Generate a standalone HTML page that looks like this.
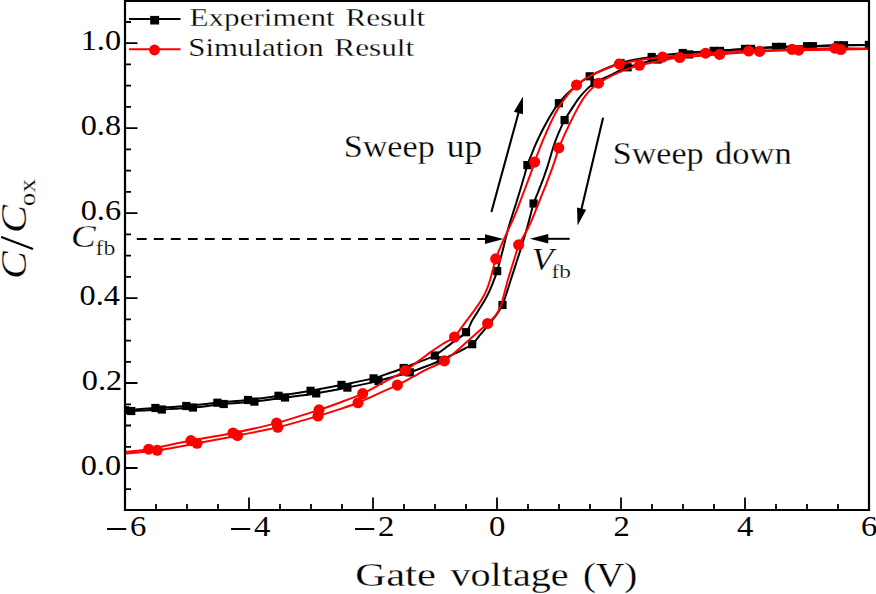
<!DOCTYPE html>
<html><head><meta charset="utf-8"><style>
html,body{margin:0;padding:0;background:#fff;width:876px;height:594px;overflow:hidden}
svg{display:block}
text{font-family:"Liberation Serif", serif;fill:#000;stroke:#fff;stroke-width:0.25px}
.tk text{stroke:none}
</style></head><body>
<svg width="876" height="594" viewBox="0 0 876 594">
<defs><clipPath id="c"><rect x="125" y="1" width="744" height="509"/></clipPath></defs>
<g clip-path="url(#c)" fill="none" stroke-width="2">
<path d="M125.0,410.3 C130.1,409.9 145.2,408.7 155.4,408.0 C165.6,407.3 176.0,406.9 186.3,406.0 C196.6,405.1 207.1,403.7 217.4,402.7 C227.7,401.7 237.8,401.1 248.0,400.0 C258.2,398.9 268.1,397.3 278.5,395.8 C288.9,394.3 300.1,392.6 310.6,390.8 C321.1,389.0 331.0,387.0 341.5,384.9 C352.0,382.8 365.6,380.4 373.6,378.4 C381.6,376.4 384.5,374.7 389.5,373.0 C394.5,371.3 398.7,369.9 403.7,368.0 C408.7,366.1 414.3,363.7 419.5,361.7 C424.7,359.6 429.5,358.5 434.8,355.5 C440.1,352.5 446.2,347.3 451.4,343.4 C456.6,339.6 462.6,335.9 466.0,332.2 C469.4,328.5 469.9,324.7 471.9,321.1 C474.0,317.5 476.3,314.0 478.4,310.5 C480.5,307.0 482.8,303.7 484.7,300.3 C486.6,296.9 488.3,293.6 489.8,290.3 C491.3,287.0 492.5,283.7 493.8,280.5 C495.0,277.3 496.0,275.2 497.2,271.1 C498.4,267.0 500.1,260.3 501.2,256.0 C502.4,251.7 503.2,248.4 504.0,245.3 C504.8,242.2 505.3,240.1 505.9,237.4 C506.6,234.7 507.3,231.9 508.1,229.1 C508.8,226.3 509.8,223.3 510.7,220.4 C511.6,217.5 512.5,214.6 513.4,211.8 C514.3,209.0 515.2,206.3 516.1,203.5 C516.9,200.7 517.7,198.1 518.6,195.2 C519.5,192.2 520.4,189.3 521.4,186.0 C522.3,182.8 523.3,179.3 524.4,175.8 C525.4,172.3 526.3,168.5 527.4,165.1 C528.5,161.7 529.9,158.6 531.2,155.3 C532.5,152.0 533.8,148.7 535.2,145.4 C536.7,142.0 538.2,138.6 539.9,135.3 C541.5,132.0 543.3,128.5 545.0,125.3 C546.8,122.1 548.6,118.9 550.2,116.1 C551.8,113.4 553.3,110.9 554.7,108.7 C556.2,106.6 557.1,105.4 558.9,103.2 C560.7,101.0 562.7,98.1 565.5,95.4 C568.2,92.6 571.5,89.7 575.5,86.5 C579.5,83.3 582.2,80.2 589.7,76.3 C597.2,72.4 610.2,66.2 620.5,63.0 C630.8,59.8 641.3,58.7 651.7,57.0 C662.1,55.3 672.4,54.0 682.7,53.0 C693.0,52.0 703.3,51.6 713.7,50.9 C724.1,50.2 734.6,49.6 745.0,48.9 C755.4,48.2 765.7,47.3 776.0,46.9 C786.3,46.5 796.7,46.5 807.0,46.2 C817.3,45.9 827.7,45.5 838.0,45.3 C848.3,45.1 863.8,45.0 869.0,45.0" stroke="#000"/>
<path d="M125.0,411.0 C126.0,411.0 125.1,411.2 131.2,411.0 C137.3,410.8 151.5,410.1 161.8,409.5 C172.1,408.9 182.6,408.4 192.9,407.5 C203.2,406.6 213.4,405.0 223.7,404.0 C233.9,403.0 244.2,402.7 254.4,401.6 C264.6,400.5 274.7,398.9 285.0,397.5 C295.3,396.1 305.8,395.0 316.2,393.4 C326.6,391.8 337.0,389.7 347.4,387.6 C357.8,385.5 370.6,382.8 378.4,380.9 C386.2,379.0 389.0,377.9 394.2,376.5 C399.4,375.0 404.6,374.0 409.8,372.4 C415.0,370.8 420.1,368.7 425.3,366.6 C430.5,364.6 435.5,362.7 440.8,360.3 C446.1,357.9 452.1,354.9 457.4,352.3 C462.6,349.6 468.5,347.0 472.2,344.2 C475.9,341.4 477.2,338.3 479.6,335.4 C482.0,332.6 484.4,329.9 486.7,327.2 C488.9,324.5 491.2,321.8 493.2,319.2 C495.2,316.6 497.0,314.0 498.6,311.6 C500.1,309.3 501.2,307.9 502.5,305.0 C503.8,302.1 505.0,297.8 506.1,294.5 C507.2,291.2 508.2,288.3 509.1,285.2 C510.1,282.1 510.9,279.5 512.0,276.1 C513.1,272.6 514.3,269.0 515.7,264.6 C517.1,260.1 519.0,254.8 520.6,249.5 C522.3,244.2 524.1,238.1 525.7,232.7 C527.3,227.3 528.7,222.0 530.0,217.1 C531.3,212.3 532.4,207.2 533.6,203.5 C534.8,199.8 535.9,197.7 537.1,194.6 C538.3,191.6 539.5,188.4 540.8,185.2 C542.0,181.9 543.4,178.5 544.5,175.2 C545.7,171.9 546.9,168.5 547.9,165.1 C549.0,161.8 549.9,158.5 550.9,155.2 C551.9,151.8 552.8,148.5 553.9,145.2 C555.0,142.0 556.3,138.6 557.5,135.6 C558.7,132.6 560.0,129.7 561.2,127.1 C562.4,124.5 563.2,122.7 564.6,120.1 C566.0,117.5 568.1,114.3 569.9,111.6 C571.6,108.9 573.2,106.3 575.0,103.8 C576.7,101.2 578.4,98.6 580.5,96.2 C582.5,93.7 584.7,91.3 587.0,89.1 C589.4,86.9 590.7,85.2 594.5,83.0 C598.3,80.8 604.0,78.3 609.6,75.7 C615.1,73.1 619.6,70.0 627.6,67.3 C635.6,64.6 647.4,61.6 657.7,59.5 C668.0,57.4 678.8,55.8 689.2,54.4 C699.6,53.0 709.7,51.8 720.0,50.9 C730.3,50.0 740.7,49.6 751.0,48.9 C761.3,48.2 771.7,47.3 782.0,46.9 C792.3,46.5 802.7,46.5 813.0,46.2 C823.3,45.9 834.7,45.5 844.0,45.3 C853.3,45.1 864.8,45.0 869.0,45.0" stroke="#000"/>
<g fill="#000" stroke="none"><rect x="120.9" y="406.2" width="8.2" height="8.2"/><rect x="151.3" y="403.9" width="8.2" height="8.2"/><rect x="182.2" y="401.9" width="8.2" height="8.2"/><rect x="213.3" y="398.6" width="8.2" height="8.2"/><rect x="243.9" y="395.9" width="8.2" height="8.2"/><rect x="274.4" y="391.7" width="8.2" height="8.2"/><rect x="306.5" y="386.7" width="8.2" height="8.2"/><rect x="337.4" y="380.8" width="8.2" height="8.2"/><rect x="369.5" y="374.3" width="8.2" height="8.2"/><rect x="399.6" y="363.9" width="8.2" height="8.2"/><rect x="430.7" y="351.4" width="8.2" height="8.2"/><rect x="461.9" y="328.1" width="8.2" height="8.2"/><rect x="493.1" y="267.0" width="8.2" height="8.2"/><rect x="523.3" y="161.0" width="8.2" height="8.2"/><rect x="554.8" y="99.1" width="8.2" height="8.2"/><rect x="585.6" y="72.2" width="8.2" height="8.2"/><rect x="616.4" y="58.9" width="8.2" height="8.2"/><rect x="647.6" y="52.9" width="8.2" height="8.2"/><rect x="678.6" y="48.9" width="8.2" height="8.2"/><rect x="709.6" y="46.8" width="8.2" height="8.2"/><rect x="740.9" y="44.8" width="8.2" height="8.2"/><rect x="771.9" y="42.8" width="8.2" height="8.2"/><rect x="802.9" y="42.1" width="8.2" height="8.2"/><rect x="833.9" y="41.2" width="8.2" height="8.2"/><rect x="864.9" y="40.9" width="8.2" height="8.2"/><rect x="127.1" y="406.9" width="8.2" height="8.2"/><rect x="157.7" y="405.4" width="8.2" height="8.2"/><rect x="188.8" y="403.4" width="8.2" height="8.2"/><rect x="219.6" y="399.9" width="8.2" height="8.2"/><rect x="250.3" y="397.5" width="8.2" height="8.2"/><rect x="280.9" y="393.4" width="8.2" height="8.2"/><rect x="312.1" y="389.3" width="8.2" height="8.2"/><rect x="343.3" y="383.5" width="8.2" height="8.2"/><rect x="374.3" y="376.8" width="8.2" height="8.2"/><rect x="405.7" y="368.3" width="8.2" height="8.2"/><rect x="436.7" y="356.2" width="8.2" height="8.2"/><rect x="468.1" y="340.1" width="8.2" height="8.2"/><rect x="498.4" y="300.9" width="8.2" height="8.2"/><rect x="529.5" y="199.4" width="8.2" height="8.2"/><rect x="560.5" y="116.0" width="8.2" height="8.2"/><rect x="590.4" y="78.9" width="8.2" height="8.2"/><rect x="623.5" y="63.2" width="8.2" height="8.2"/><rect x="653.6" y="55.4" width="8.2" height="8.2"/><rect x="685.1" y="50.3" width="8.2" height="8.2"/><rect x="715.9" y="46.8" width="8.2" height="8.2"/><rect x="746.9" y="44.8" width="8.2" height="8.2"/><rect x="777.9" y="42.8" width="8.2" height="8.2"/><rect x="808.9" y="42.1" width="8.2" height="8.2"/><rect x="839.9" y="41.2" width="8.2" height="8.2"/><rect x="864.9" y="40.9" width="8.2" height="8.2"/></g>
<path d="M125.0,452.0 C128.9,451.5 137.7,451.1 148.7,449.2 C159.7,447.3 176.8,443.3 190.9,440.6 C205.0,437.9 218.7,435.9 233.0,433.0 C247.3,430.1 262.3,427.0 276.6,423.1 C290.9,419.2 308.1,413.5 319.0,409.9 C329.9,406.3 334.6,404.5 341.9,401.8 C349.2,399.1 356.5,396.4 362.7,393.6 C368.9,390.8 373.8,387.7 378.8,384.9 C383.9,382.2 388.6,379.7 393.0,377.3 C397.4,374.9 401.1,373.3 405.3,370.6 C409.5,367.9 414.2,364.2 418.4,361.1 C422.6,358.1 426.3,355.2 430.2,352.4 C434.2,349.6 437.9,347.1 441.9,344.5 C445.9,341.9 451.4,339.6 454.5,337.0 C457.6,334.4 458.3,331.9 460.4,329.1 C462.5,326.2 464.6,323.3 467.0,320.1 C469.3,317.0 471.9,313.7 474.3,310.4 C476.7,307.1 479.2,303.7 481.2,300.3 C483.3,296.9 485.1,293.6 486.5,290.2 C488.0,286.8 489.0,283.5 490.1,280.0 C491.1,276.6 491.9,273.1 492.9,269.6 C493.8,266.1 494.7,261.9 495.7,258.9 C496.7,255.9 497.7,253.8 498.7,251.4 C499.7,249.0 500.5,246.9 501.5,244.6 C502.6,242.2 503.6,239.9 504.8,237.4 C505.9,234.8 507.3,231.9 508.6,229.1 C509.9,226.3 511.3,223.3 512.6,220.4 C513.9,217.5 515.1,214.7 516.2,211.8 C517.3,209.0 518.4,206.2 519.5,203.3 C520.6,200.4 521.7,197.6 522.8,194.5 C524.0,191.4 525.2,188.3 526.5,184.9 C527.8,181.5 529.1,177.8 530.5,174.1 C531.9,170.3 533.5,165.4 534.7,162.1 C535.9,158.8 536.5,157.0 537.5,154.2 C538.6,151.4 539.7,148.3 541.0,145.2 C542.2,142.0 543.6,138.6 545.1,135.3 C546.5,132.0 548.0,128.6 549.6,125.2 C551.1,121.8 552.6,118.5 554.4,115.1 C556.2,111.8 557.9,108.5 560.1,105.1 C562.3,101.8 564.8,98.5 567.6,95.1 C570.3,91.8 573.5,87.7 576.5,85.0 C579.5,82.3 582.2,80.8 585.3,78.9 C588.3,77.0 591.3,75.3 594.8,73.6 C598.3,71.9 602.1,70.4 606.2,68.8 C610.3,67.2 615.1,65.2 619.4,64.0 C623.7,62.8 627.4,62.3 631.9,61.4 C636.4,60.6 641.2,59.9 646.4,59.1 C651.5,58.4 652.7,58.1 662.6,57.1 C672.5,56.1 691.2,54.2 705.6,53.2 C720.0,52.2 734.4,51.6 748.8,51.0 C763.2,50.4 777.7,49.9 792.0,49.4 C806.3,48.9 821.9,48.3 834.7,48.2 C847.5,48.1 863.3,48.5 869.0,48.6" stroke="#f00"/>
<path d="M125.0,453.6 C130.4,453.1 145.2,452.0 157.2,450.3 C169.2,448.6 183.6,445.8 197.0,443.3 C210.4,440.8 224.0,438.2 237.5,435.5 C251.0,432.8 264.4,430.6 277.8,427.3 C291.2,424.1 307.7,419.0 318.0,416.0 C328.3,413.0 333.1,411.3 339.8,409.1 C346.4,406.9 351.6,405.4 358.0,402.8 C364.4,400.2 371.8,396.5 378.4,393.6 C384.9,390.6 391.5,388.0 397.4,385.1 C403.3,382.2 408.7,379.1 414.1,376.2 C419.4,373.3 424.6,370.4 429.7,367.9 C434.8,365.4 438.6,364.9 444.4,360.9 C450.2,356.9 457.3,350.2 464.5,344.0 C471.7,337.7 482.5,328.1 487.6,323.5 C492.7,318.9 492.8,318.7 494.9,316.3 C496.9,313.8 498.4,311.4 499.7,308.7 C501.0,306.0 501.7,303.1 502.6,300.0 C503.5,296.9 504.2,293.5 505.1,290.2 C505.9,286.9 506.9,283.4 507.8,280.1 C508.8,276.7 509.9,273.3 510.9,270.0 C511.9,266.7 513.0,263.3 513.9,260.3 C514.8,257.3 515.7,254.4 516.5,251.8 C517.3,249.2 517.4,247.3 518.6,244.8 C519.8,242.3 521.9,239.3 523.4,236.6 C525.0,233.8 526.5,231.1 527.9,228.5 C529.2,225.8 530.4,223.2 531.6,220.6 C532.7,218.0 533.7,215.5 534.8,212.8 C535.8,210.1 536.9,207.4 538.1,204.5 C539.3,201.6 540.5,198.4 541.8,195.2 C543.1,192.0 544.5,188.6 545.8,185.3 C547.1,182.0 548.4,178.5 549.6,175.2 C550.9,171.9 552.1,168.5 553.2,165.3 C554.3,162.1 555.4,159.0 556.3,156.1 C557.2,153.2 557.5,151.2 558.8,147.9 C560.1,144.6 562.2,140.0 563.9,136.2 C565.6,132.5 567.2,128.9 568.9,125.4 C570.6,121.8 572.3,118.4 574.0,115.1 C575.8,111.8 577.5,108.4 579.3,105.3 C581.1,102.2 582.7,99.2 584.7,96.6 C586.6,93.9 588.7,91.7 591.0,89.4 C593.3,87.2 595.1,85.5 598.5,83.2 C601.9,81.0 607.0,78.1 611.4,75.9 C615.9,73.7 620.5,71.7 625.1,69.9 C629.8,68.1 633.9,66.7 639.4,65.3 C644.9,63.9 651.7,62.6 658.4,61.3 C665.1,60.0 669.5,58.7 679.7,57.5 C689.9,56.3 706.3,55.4 719.6,54.4 C732.9,53.4 746.4,52.1 759.6,51.4 C772.8,50.7 785.2,50.5 798.7,50.2 C812.2,49.9 829.1,49.7 840.8,49.5 C852.5,49.3 864.3,49.0 869.0,48.9" stroke="#f00"/>
<g fill="#f00" stroke="none"><circle cx="148.7" cy="449.2" r="5.55"/><circle cx="190.9" cy="440.6" r="5.55"/><circle cx="233.0" cy="433.0" r="5.55"/><circle cx="276.6" cy="423.1" r="5.55"/><circle cx="319.0" cy="409.9" r="5.55"/><circle cx="362.7" cy="393.6" r="5.55"/><circle cx="405.3" cy="370.6" r="5.55"/><circle cx="454.5" cy="337.0" r="5.55"/><circle cx="495.7" cy="258.9" r="5.55"/><circle cx="534.7" cy="162.1" r="5.55"/><circle cx="576.5" cy="85.0" r="5.55"/><circle cx="619.4" cy="64.0" r="5.55"/><circle cx="662.6" cy="57.1" r="5.55"/><circle cx="705.6" cy="53.2" r="5.55"/><circle cx="748.8" cy="51.0" r="5.55"/><circle cx="792.0" cy="49.4" r="5.55"/><circle cx="834.7" cy="48.2" r="5.55"/><circle cx="157.2" cy="450.3" r="5.55"/><circle cx="197.0" cy="443.3" r="5.55"/><circle cx="237.5" cy="435.5" r="5.55"/><circle cx="277.8" cy="427.3" r="5.55"/><circle cx="318.0" cy="416.0" r="5.55"/><circle cx="358.0" cy="402.8" r="5.55"/><circle cx="397.4" cy="385.1" r="5.55"/><circle cx="444.4" cy="360.9" r="5.55"/><circle cx="487.6" cy="323.5" r="5.55"/><circle cx="518.6" cy="244.8" r="5.55"/><circle cx="558.8" cy="147.9" r="5.55"/><circle cx="598.5" cy="83.2" r="5.55"/><circle cx="639.4" cy="65.3" r="5.55"/><circle cx="679.7" cy="57.5" r="5.55"/><circle cx="719.6" cy="54.4" r="5.55"/><circle cx="759.6" cy="51.4" r="5.55"/><circle cx="798.7" cy="50.2" r="5.55"/><circle cx="840.8" cy="49.5" r="5.55"/></g>
</g>
<path d="M125,1H869V510H125Z" fill="none" stroke="#000" stroke-width="2.2"/>
<path d="M156.0,510V504.0 M187.0,510V504.0 M218.0,510V504.0 M249.0,510V497.5 M280.0,510V504.0 M311.0,510V504.0 M342.0,510V504.0 M373.0,510V497.5 M404.0,510V504.0 M435.0,510V504.0 M466.0,510V504.0 M497.0,510V497.5 M528.0,510V504.0 M559.0,510V504.0 M590.0,510V504.0 M621.0,510V497.5 M652.0,510V504.0 M683.0,510V504.0 M714.0,510V504.0 M745.0,510V497.5 M776.0,510V504.0 M807.0,510V504.0 M838.0,510V504.0 M125,489.2H131.0 M125,468.0H137.5 M125,446.8H131.0 M125,425.5H131.0 M125,404.3H131.0 M125,383.0H137.5 M125,361.8H131.0 M125,340.6H131.0 M125,319.3H131.0 M125,298.1H137.5 M125,276.8H131.0 M125,255.6H131.0 M125,234.4H131.0 M125,213.1H137.5 M125,191.9H131.0 M125,170.6H131.0 M125,149.4H131.0 M125,128.2H137.5 M125,106.9H131.0 M125,85.7H131.0 M125,64.4H131.0 M125,43.2H137.5 M125,22.0H131.0" stroke="#000" stroke-width="1.8" fill="none"/>
<g class="tk" font-size="29.5"><rect x="107.00" y="528.00" width="19.20" height="2"/><text transform="translate(130.09,536.30) scale(1.1083,1)" font-size="29.5">6</text><rect x="231.00" y="528.00" width="19.20" height="2"/><text transform="translate(254.09,536.30) scale(1.1083,1)" font-size="29.5">4</text><rect x="355.00" y="528.00" width="19.20" height="2"/><text transform="translate(378.09,536.30) scale(1.1083,1)" font-size="29.5">2</text><text transform="translate(488.89,536.30) scale(1.1083,1)" font-size="29.5">0</text><text transform="translate(613.44,536.30) scale(1.1083,1)" font-size="29.5">2</text><text transform="translate(736.89,536.30) scale(1.1083,1)" font-size="29.5">4</text><text transform="translate(860.89,536.30) scale(1.1083,1)" font-size="29.5">6</text><text transform="translate(80.70,474.70) scale(1.0944,1)" font-size="29.5">0.0</text><text transform="translate(81.79,389.74) scale(1.0944,1)" font-size="29.5">0.2</text><text transform="translate(79.61,304.78) scale(1.0944,1)" font-size="29.5">0.4</text><text transform="translate(80.70,219.82) scale(1.0944,1)" font-size="29.5">0.6</text><text transform="translate(80.70,134.86) scale(1.0944,1)" font-size="29.5">0.8</text><text transform="translate(80.70,49.90) scale(1.0944,1)" font-size="29.5">1.0</text></g>
<path d="M129,19H180.5" stroke="#000" stroke-width="1.9"/>
<rect x="150.2" y="15.9" width="8.9" height="8.6" fill="#000"/>
<path d="M129,49.2H180.5" stroke="#f00" stroke-width="1.9"/>
<circle cx="154.5" cy="50" r="5.4" fill="#f00"/>
<text transform="translate(189.50,26.30) scale(1.2457,1)" font-size="25">Experiment</text><text transform="translate(345.45,26.30) scale(1.2500,1)" font-size="25">Result</text><text transform="translate(188.28,56.10) scale(1.2350,1)" font-size="25">Simulation</text><text transform="translate(334.35,56.10) scale(1.2500,1)" font-size="25">Result</text><text transform="translate(343.69,156.50) scale(1.1025,1)" font-size="31">Sweep</text><text transform="translate(446.76,156.50) scale(1.1414,1)" font-size="31">up</text><text transform="translate(612.80,163.60) scale(1.0987,1)" font-size="31">Sweep</text><text transform="translate(715.09,163.60) scale(1.1134,1)" font-size="31">down</text><text transform="translate(355.35,585.50) scale(1.2548,1)" font-size="34">Gate</text><text transform="translate(450.40,585.50) scale(1.1828,1)" font-size="34">voltage</text><text transform="translate(583.10,585.50) scale(1.1477,1)" font-size="34">(V)</text><text transform="translate(70.91,246.50) scale(1.1947,1)" font-size="31" font-style="italic">C</text><text transform="translate(95.51,254.80) scale(1.1867,1)" font-size="20">fb</text><text transform="translate(531.86,269.80) scale(1.1200,1)" font-size="31.5" font-style="italic">V</text><text transform="translate(551.41,277.50) scale(1.1933,1)" font-size="19.5">fb</text>
<path d="M491.6,211.2L518.96,111.16M602.9,118.5L581.12,210.61" stroke="#000" stroke-width="2.1" stroke-linecap="round"/>
<path d="M523.00,96.40L522.97,114.33L513.90,111.85Z M577.60,225.50L577.01,207.58L586.15,209.75Z M503.60,239.10L485.00,243.90L485.00,234.30Z M529.90,238.80L548.30,234.10L548.30,243.50Z" fill="#000"/>
<path d="M136.8,239.1H487" stroke="#000" stroke-width="2" stroke-dasharray="9.8 7.22"/>
<path d="M569.7,238.8H546" stroke="#000" stroke-width="2"/>
<text transform="translate(26.40,279.12) rotate(-90) scale(1.1591,1.0167)" font-size="36" font-style="italic">C</text><text transform="translate(26.20,233.04) rotate(-90) scale(1.1682,1.0000)" font-size="36" font-style="italic">C</text><text transform="translate(35.00,206.13) rotate(-90) scale(1.1273,0.9727)" font-size="24">ox</text><path d="M1.9,237.2L32.3,248.7" stroke="#000" stroke-width="2.1" stroke-linecap="round"/>
</svg>
</body></html>
